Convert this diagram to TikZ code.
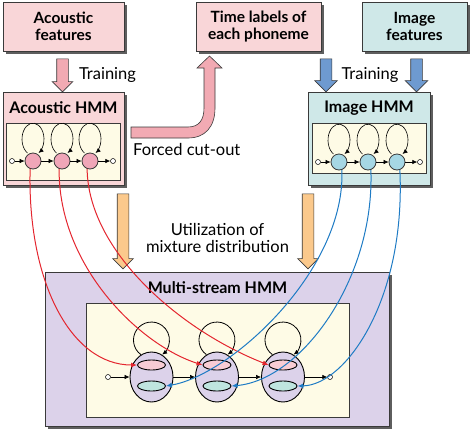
\documentclass[tikz,border=0pt]{standalone}
\usepackage{fontspec}
\setmainfont{Lato}
\usepackage{tikz}
\usetikzlibrary{arrows.meta,positioning,calc,shapes.geometric,shapes.arrows,shadows}
\usepackage{xcolor}

\definecolor{edge}{HTML}{3A3A3A}
\definecolor{shade}{HTML}{5E5E5E}
\definecolor{pinkbox}{HTML}{F9D6D8}
\definecolor{pinkarr}{HTML}{F2AAB3}
\definecolor{pinkstate}{HTML}{F0A6B8}
\definecolor{pinkell}{HTML}{F8CCD4}
\definecolor{tealbox}{HTML}{CFE8E8}
\definecolor{tealstate}{HTML}{A6D7E4}
\definecolor{tealell}{HTML}{BFE5DF}
\definecolor{bluearr}{HTML}{6E9AD0}
\definecolor{orangearr}{HTML}{FBC98C}
\definecolor{lavender}{HTML}{DCD2EA}
\definecolor{cream}{HTML}{FEFBE6}
\definecolor{redline}{HTML}{E4262F}
\definecolor{blueline}{HTML}{1E7BC4}

\begin{document}
\begin{tikzpicture}[x=1pt,y=-1pt,
  box/.style={draw=edge,line width=0.8pt,align=center,inner sep=0pt,
    drop shadow={shadow xshift=3pt,shadow yshift=-3pt,fill=shade,opacity=1},
    font=\bfseries\fontsize{15.5}{16.5}\selectfont},
  crbox/.style={draw=edge,line width=0.8pt,fill=cream,inner sep=0pt},
  title/.style={font=\bfseries\fontsize{16}{17}\selectfont,inner sep=0pt,anchor=base},
  lbl/.style={font=\fontsize{16.5}{17}\selectfont,inner sep=0pt},
  blockarr/.style={single arrow,draw=edge,line width=0.6pt,rotate=-90,
    inner sep=5.5pt,single arrow head extend=4.5pt},
  sstate/.style={circle,draw=edge,line width=0.8pt,minimum size=16pt,inner sep=0pt},
  bstate/.style={ellipse,draw=black,line width=0.9pt,fill=lavender,
    minimum width=43pt,minimum height=50pt,inner sep=0pt},
  subell/.style={ellipse,draw=black,line width=0.9pt,minimum width=28pt,
    minimum height=10pt,inner sep=0pt},
  dot/.style={circle,draw=black,fill=white,line width=0.5pt,minimum size=5pt,inner sep=0pt},
  tr/.style={line width=0.6pt,-{Latex[length=5pt,width=4.5pt]}},
  redarc/.style={redline,line width=1pt,-{Latex[length=6pt,width=5pt]}},
  bluearc/.style={blueline,line width=1pt,-{Latex[length=6pt,width=5pt]}}]
\useasboundingbox (0,0) rectangle (474,432);

% feature boxes
\node[box,fill=pinkbox,minimum width=121pt,minimum height=49pt] (acf) at (63.5,26.5) {Acoustic\\features};
\node[box,fill=pinkbox,minimum width=125pt,minimum height=49pt] (tlp) at (258.5,26.5) {Time labels of\\each phoneme};
\node[box,fill=tealbox,minimum width=105pt,minimum height=49pt] (imf) at (414.5,26.5) {Image\\features};

% training arrows
\node[blockarr,fill=pinkarr,minimum height=33pt] (tra) at (62.5,72.5) {};
\node[blockarr,fill=bluearr,minimum height=33pt,single arrow head extend=5.5pt] (trt) at (326,72.5) {};
\node[blockarr,fill=bluearr,minimum height=33pt,single arrow head extend=5.5pt] (tri) at (416.5,72.5) {};
\node[lbl,anchor=base] (trainA) at (107.5,79) {Training};
\node[lbl,anchor=base] (trainB) at (370,79) {Training};

% acoustic HMM
\node[box,fill=pinkbox,minimum width=121pt,minimum height=93pt] (ahmm) at (63.5,138.5) {};
\node[title] (ahmmt) at (63.5,113) {Acoustic HMM};
\node[crbox,minimum width=114pt,minimum height=57pt] (acr) at (63,151.5) {};
\node[dot] (a0) at (12,161) {};
\node[dot] (a4) at (113,161) {};
\foreach \i/\x in {1/33,2/62,3/90}
  \node[sstate,fill=pinkstate] (a\i) at (\x,161) {};
\foreach \i/\j in {0/1,1/2,2/3,3/4}
  \draw[tr] (a\i) -- (a\j);
\foreach \i in {1,2,3}
  \draw[tr] ($(a\i)+(-5.5,-8)$) arc[start angle=120,end angle=420,x radius=11,y radius=16];

% image HMM
\node[box,fill=tealbox,minimum width=122pt,minimum height=93pt] (ihmm) at (369,138.5) {};
\node[title] (ihmmt) at (369,112) {Image HMM};
\node[crbox,minimum width=114pt,minimum height=50pt] (icr) at (369,148) {};
\node[dot] (b0) at (318,162) {};
\node[dot] (b4) at (420,162) {};
\foreach \i/\x in {1/339,2/368,3/397}
  \node[sstate,fill=tealstate] (b\i) at (\x,162) {};
\foreach \i/\j in {0/1,1/2,2/3,3/4}
  \draw[tr] (b\i) -- (b\j);
\foreach \i in {1,2,3}
  \draw[tr] ($(b\i)+(-5.5,-8)$) arc[start angle=120,end angle=420,x radius=11,y radius=16];

% forced cut-out
\draw[draw=edge,line width=0.6pt,fill=pinkarr] (131,127) -- (188,127)
  .. controls (199,127) and (204,120) .. (204,108) -- (204,68) -- (197,68)
  -- (209.5,56) -- (222,68) -- (215,68) -- (215,108)
  .. controls (215,127) and (205,138) .. (188,138) -- (131,138) -- cycle;
\node[lbl,anchor=base west] (cut) at (133,155) {Forced cut-out};

% mixture arrows
\node[blockarr,fill=orangearr,minimum height=75pt] (mxa) at (123,228.5) {};
\node[blockarr,fill=orangearr,minimum height=75pt] (mxi) at (308,228.5) {};
\node[lbl,align=center] (mix) at (217.5,238) {Utilization of\\mixture distribution};

% multi-stream HMM
\node[box,fill=lavender,minimum width=344pt,minimum height=154pt] (ms) at (217,349) {};
\node[title] (mst) at (217.5,293) {Multi-stream HMM};
\node[crbox,minimum width=263pt,minimum height=114pt] (mcr) at (217.5,360) {};
\node[dot] (m0) at (108,377) {};
\node[dot] (m4) at (330,377) {};
\foreach \i/\x in {1/151.5,2/217,3/283} {
  \node[bstate] (m\i) at (\x,377) {};
  \node[subell,fill=pinkell] (p\i) at (\x,365) {};
  \node[subell,fill=tealell] (q\i) at (\x,386) {};
}
\foreach \i/\j in {0/1,1/2,2/3,3/4}
  \draw[tr] (m\i) -- (m\j);
\foreach \i in {1,2,3}
  \draw[tr,line width=0.8pt] ($(m\i)+(-10.6,-22.4)$) arc[start angle=126,end angle=414,radius=18];

% streams into the multi-stream states
\draw[redarc] (a1.250) .. controls +(-3,111) and +(-67,0) .. (p1.west);
\draw[redarc] (a2.250) .. controls +(-1,97) and +(-63,-20) .. (p2.west);
\draw[redarc] (a3.250) .. controls +(1,82) and +(-89,-35) .. (p3.west);
\draw[bluearc] (b1.290) .. controls +(4,100) and +(65,-11) .. (q1.east);
\draw[bluearc] (b2.290) .. controls +(4,110) and +(69,-6) .. (q2.east);
\draw[bluearc] (b3.290) .. controls +(6,130) and +(48,-1) .. (q3.east);
\end{tikzpicture}
\end{document}
